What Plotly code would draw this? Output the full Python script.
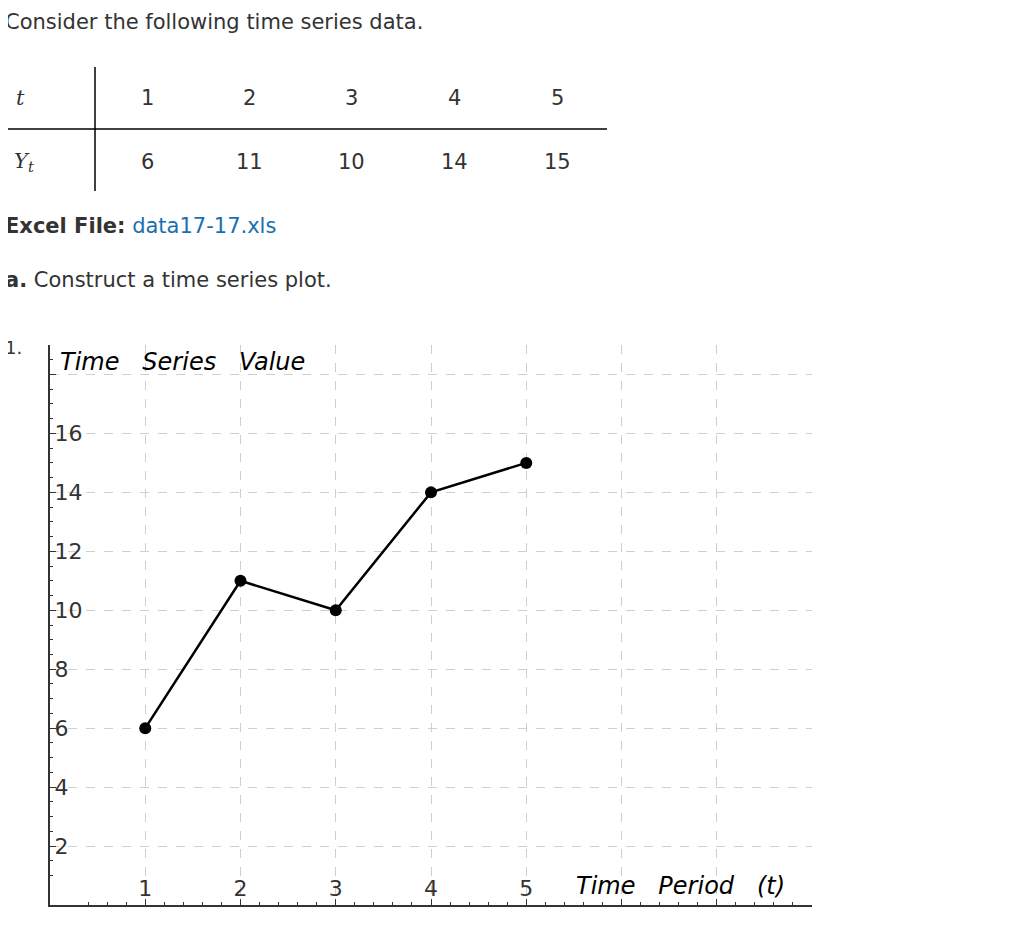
import plotly.graph_objects as go

t = [1, 2, 3, 4, 5]
y_t = [6, 11, 10, 14, 15]
y_ticks = [2, 4, 6, 8, 10, 12, 14, 16, 18]
y_labels = ["2", "4", "6", "8", "10", "12", "14", "16", ""]
x_ticks = [0, 1, 2, 3, 4, 5, 6, 7, 8]
x_labels = ["", "1", "2", "3", "4", "5", "", "", ""]

# page has an 8px body margin; coordinates below are in reference pixels
OFF = 8
W, H = 1024 - 2 * OFF, 936 - 2 * OFF
L, R, T, B = 50, 812, 345, 905


def px(x):
    return (x - L) / (R - L)


def py(y):
    return (B - y) / (B - T)


fig = go.Figure()
fig.add_trace(go.Scatter(x=t, y=y_t, mode="lines+markers",
                         line=dict(color="black", width=2.5),
                         marker=dict(color="black", size=12)))

font = "DejaVu Sans, Verdana, sans-serif"
ann = []


def txt(x, y, s, size=21, color="#333", anchor="left", family=font):
    ann.append(dict(x=px(x), y=py(y), xref="paper", yref="paper", text=s,
                    showarrow=False, xanchor=anchor, yanchor="middle",
                    font=dict(size=size, color=color, family=family)))


txt(3, 22, "Consider the following time series data.")
txt(14, 98, "<i>t</i>", family="DejaVu Serif, serif")
txt(12, 162, "<i>Y<sub>t</sub></i>", family="DejaVu Serif, serif")
for xc, a, b in zip([147, 249, 351, 454, 557], t, y_t):
    txt(xc, 98, str(a), anchor="center")
    txt(xc, 162, str(b), anchor="center")
txt(3, 226, "<b>Excel File:</b> <span style='color:#1a6fb0'>data17-17.xls</span>")
txt(3, 280, "<b>a.</b> Construct a time series plot.")
txt(3, 347, "1.", size=18)
txt(58, 362, "<i>Time   Series   Value</i>", size=24, color="black")
txt(574, 886, "<i>Time   Period   (t)</i>", size=24, color="black")

shapes = [
    dict(type="line", xref="paper", yref="paper", x0=px(95), x1=px(95), y0=py(67), y1=py(191),
         line=dict(color="black", width=1.5)),
    dict(type="line", xref="paper", yref="paper", x0=px(5), x1=px(607), y0=py(129), y1=py(129),
         line=dict(color="black", width=1.5)),
]

grid = dict(gridcolor="#cfcfcf", griddash="dash", gridwidth=1, zeroline=False,
            showline=True, linecolor="#333", linewidth=2, ticks="inside",
            ticklen=6, tickcolor="#333", ticklabelposition="inside",
            tickfont=dict(size=22, color="#333", family=font))

fig.update_layout(
    width=W, height=H, paper_bgcolor="white", plot_bgcolor="white",
    margin=dict(l=L - OFF, r=1024 - OFF - R, t=T - OFF, b=936 - OFF - B), showlegend=False,
    annotations=ann, shapes=shapes,
    xaxis=dict(range=[0, 8], tickvals=x_ticks, ticktext=x_labels,
               minor=dict(dtick=0.2, ticks="inside", ticklen=3, tickcolor="#333", showgrid=False),
               **grid),
    yaxis=dict(range=[0, 19], tickvals=y_ticks, ticktext=y_labels,
               minor=dict(dtick=0.5, ticks="inside", ticklen=3, tickcolor="#333", showgrid=False),
               **grid),
)
fig.write_html("out.html")
